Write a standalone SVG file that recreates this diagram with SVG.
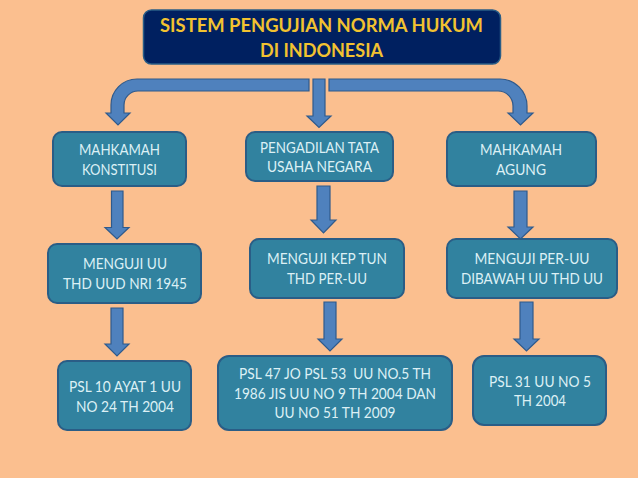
<svg xmlns="http://www.w3.org/2000/svg" width="638" height="478" viewBox="0 0 638 478">
<style>
.box{fill:#31829f;stroke:#2a5d86;stroke-width:2}
.arrow{fill:#4f81bd;stroke:#2f5a8c;stroke-width:1.2;stroke-linejoin:miter}
text{font-family:"Lato","Open Sans","Liberation Sans",sans-serif;font-size:15px;fill:#dcf0f5;text-anchor:middle}
.title{font-size:19px;font-weight:700;fill:#f2c230}
</style>
<rect width="638" height="478" fill="#fbbf8f"/>
<g id="connectors">
<path class="arrow" d="M309 79H137A26 26 0 0 0 111 105V113H106L118 125L130 113H124V105A14 14 0 0 1 138 91H309Z"/>
<path class="arrow" d="M313 79H325V116H331L319 127.500L307 116H313Z"/>
<path class="arrow" d="M329 79H500A27 27 0 0 1 527 106V113H533L520.500 125L508 113H513V106A15 15 0 0 0 498 91H329Z"/>
<path class="arrow" d="M111.500 191H123V227.500H129L117 239L105 227.500H111.500Z"/>
<path class="arrow" d="M317 186H330V220H336L323.500 233L311 220H317Z"/>
<path class="arrow" d="M514 191H527V227H533L520.500 239L508 227H514Z"/>
<path class="arrow" d="M111 308H123V344H129L117 356L105 344H111Z"/>
<path class="arrow" d="M324 302H336V339H342L330 351L318 339H324Z"/>
<path class="arrow" d="M520 302H533V339H539L526.500 351L514 339H520Z"/>
</g>
<g id="title">
<rect x="143.500" y="10" width="357" height="54" rx="8" fill="#002060" stroke="#2a5d86" stroke-width="1.500"/>
<text class="title" x="321.500" y="32" textLength="323" lengthAdjust="spacingAndGlyphs">SISTEM PENGUJIAN NORMA HUKUM</text>
<text class="title" x="321.500" y="57" textLength="123" lengthAdjust="spacingAndGlyphs">DI INDONESIA</text>
</g>
<g id="mk"><rect class="box" x="53" y="132" width="133" height="54" rx="9"/><text x="119.500" y="155" textLength="81" lengthAdjust="spacingAndGlyphs">MAHKAMAH</text><text x="119.500" y="175" textLength="75" lengthAdjust="spacingAndGlyphs">KONSTITUSI</text></g>
<g id="ptun"><rect class="box" x="246" y="132" width="147" height="49" rx="9"/><text x="319.500" y="153" textLength="119" lengthAdjust="spacingAndGlyphs">PENGADILAN TATA</text><text x="319.500" y="172" textLength="105" lengthAdjust="spacingAndGlyphs">USAHA NEGARA</text></g>
<g id="ma"><rect class="box" x="447" y="132" width="149" height="54" rx="9"/><text x="521" y="155" textLength="82" lengthAdjust="spacingAndGlyphs">MAHKAMAH</text><text x="521" y="175" textLength="50" lengthAdjust="spacingAndGlyphs">AGUNG</text></g>
<g id="uji-uu"><rect class="box" x="48" y="244" width="153" height="59" rx="9"/><text x="125" y="269" textLength="84" lengthAdjust="spacingAndGlyphs">MENGUJI UU</text><text x="125" y="288.500" textLength="124" lengthAdjust="spacingAndGlyphs">THD UUD NRI 1945</text></g>
<g id="uji-kep"><rect class="box" x="250" y="239" width="154" height="59" rx="9"/><text x="327" y="264" textLength="120" lengthAdjust="spacingAndGlyphs">MENGUJI KEP TUN</text><text x="327" y="284" textLength="80" lengthAdjust="spacingAndGlyphs">THD PER-UU</text></g>
<g id="uji-per"><rect class="box" x="447" y="239" width="170" height="59" rx="9"/><text x="532" y="264" textLength="115" lengthAdjust="spacingAndGlyphs">MENGUJI PER-UU</text><text x="532" y="284" textLength="142" lengthAdjust="spacingAndGlyphs">DIBAWAH UU THD UU</text></g>
<g id="psl10"><rect class="box" x="58" y="361" width="133" height="69" rx="9"/><text x="125" y="392" textLength="112" lengthAdjust="spacingAndGlyphs">PSL 10 AYAT 1 UU</text><text x="125" y="412" textLength="98" lengthAdjust="spacingAndGlyphs">NO 24 TH 2004</text></g>
<g id="psl47"><rect class="box" x="218" y="356" width="234" height="74" rx="11"/><text x="335" y="379" xml:space="preserve" textLength="192" lengthAdjust="spacingAndGlyphs">PSL 47 JO PSL 53  UU NO.5 TH</text><text x="335" y="398.500" textLength="202" lengthAdjust="spacingAndGlyphs">1986 JIS UU NO 9 TH 2004 DAN</text><text x="335" y="418" textLength="121" lengthAdjust="spacingAndGlyphs">UU NO 51 TH 2009</text></g>
<g id="psl31"><rect class="box" x="473" y="356" width="133" height="69" rx="11"/><text x="540" y="387" textLength="102" lengthAdjust="spacingAndGlyphs">PSL 31 UU NO 5</text><text x="540" y="406" textLength="52" lengthAdjust="spacingAndGlyphs">TH 2004</text></g>
</svg>
